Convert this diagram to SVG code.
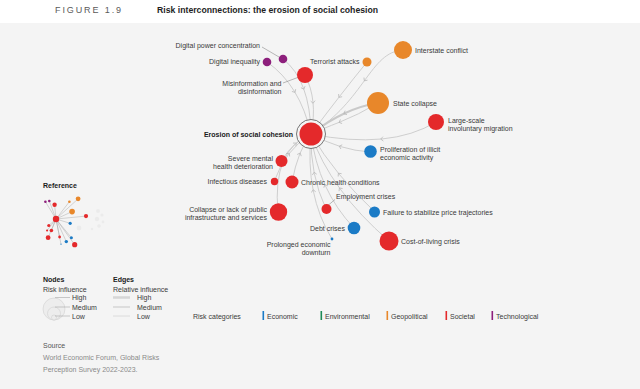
<svg xmlns="http://www.w3.org/2000/svg" width="640" height="389" viewBox="0 0 640 389">
<defs>
<style>
.t{font-family:"Liberation Sans",Arial,sans-serif;font-size:7px;fill:#3a3a3a}
.e{text-anchor:end}
.b{font-weight:bold;fill:#1a1a1a}
.edge{fill:none;stroke:#c9c9c9;stroke-width:0.9;marker-mid:url(#chev)}
.lead{stroke:#777;stroke-width:0.5;fill:none}
.soc{fill:#e4292b}.geo{fill:#e8872a}.eco{fill:#1b7bc6}.tec{fill:#8d1f7c}
.mini line{stroke:#9a9a9a;stroke-width:0.4}
</style>
<marker id="chev" viewBox="-3 -3 6 6" markerWidth="6" markerHeight="6" orient="auto" markerUnits="userSpaceOnUse">
<path d="M-1.4,-2.2 L1,0 L-1.4,2.2" fill="none" stroke="#b5b5b5" stroke-width="0.7"/>
</marker>
</defs>
<rect width="640" height="389" fill="#ffffff"/>
<rect y="23" width="640" height="366" fill="#f4f4f4"/>
<text x="55" y="12.5" style="font-family:'Liberation Sans',Arial,sans-serif;font-size:9px;letter-spacing:1.9px;fill:#5a5a5a">FIGURE 1.9</text>
<text x="157" y="12.5" style="font-family:'Liberation Sans',Arial,sans-serif;font-size:8.7px;font-weight:bold;fill:#1e1e1e">Risk interconnections: the erosion of social cohesion</text>

<g id="connectors">
<path class="edge" d="M283,59 Q296.5,69.5 303.5,88.25 T311,134"/>
<path class="edge" d="M267,62 Q283.5,73.5 294.5,91.5 T311,134"/>
<path class="edge" d="M305,75 Q311.5,87.5 313,102.25 T311,134"/>
<path class="edge" d="M367,62 Q353.5,78.5 339.5,96.5 T311,134"/>
<path class="edge" d="M403,50 C386.5,51 377,63.5 364.9,80 S338,117 311,134"/>
<path class="edge" style="stroke-width:2" d="M378,103 Q361.5,105.5 344.75,113.25 T311,134"/>
<path class="edge" d="M378,103 Q358,115 340,122 T311,134"/>
<path class="edge" d="M436,122 Q413,136 381.75,139 T311,134"/>
<path class="edge" d="M370,152 Q355,151 340.25,146.5 T311,134"/>
<path class="edge" d="M281,161 Q288,150.5 295.5,143.75 T311,134"/>
<path class="edge" d="M278,212 Q275,181 283.25,161.5 T311,134"/>
<path class="edge" d="M274,182 Q279.5,166 288.75,154 T311,134"/>
<path class="edge" d="M292,182 Q295,166 299.75,154 T311,134"/>
<path class="edge" d="M326,209 Q318,192 314.25,173.25 T311,134"/>
<path class="edge" d="M354,228 Q336,209 325.25,185.5 T311,134"/>
<path class="edge" d="M332,239 Q318.5,217 313.25,190.75 T311,134"/>
<path class="edge" d="M389,241 Q359.5,215.5 340,188.75 T311,134"/>
<path class="edge" d="M375,212 Q355,193.5 339,174 T311,134"/>
<line class="lead" x1="262" y1="47" x2="279" y2="57"/>
<line class="lead" x1="283" y1="83" x2="299" y2="77"/>
<line class="lead" x1="335" y1="199.5" x2="328.5" y2="205"/>
</g>

<g id="n-center"><circle cx="311" cy="134" r="14.5" fill="#f4f4f4" stroke="#555" stroke-width="0.8"/><circle class="soc" cx="311" cy="134" r="11.5"/><text class="t b e" x="293" y="136.5">Erosion of social cohesion</text></g>
<g id="n-digpower"><circle class="tec" cx="283" cy="59" r="4.3"/><text class="t e" x="260" y="48">Digital power concentration</text></g>
<g id="n-diginequality"><circle class="tec" cx="267" cy="62" r="4.3"/><text class="t e" x="260" y="63.5">Digital inequality</text></g>
<g id="n-misinfo"><circle class="soc" cx="305" cy="75" r="8"/><text class="t e" x="281.5" y="85.5">Misinformation and</text><text class="t e" x="281.5" y="93.5">disinformation</text></g>
<g id="n-terrorist"><circle class="geo" cx="367" cy="62" r="4.5"/><text class="t e" x="359.5" y="64">Terrorist attacks</text></g>
<g id="n-interstate"><circle class="geo" cx="403" cy="50" r="9"/><text class="t" x="415" y="52.5">Interstate conflict</text></g>
<g id="n-statecollapse"><circle class="geo" cx="378" cy="103" r="11"/><text class="t" x="393" y="105.5">State collapse</text></g>
<g id="n-migration"><circle class="soc" cx="436" cy="122" r="8"/><text class="t" x="448" y="122.5">Large-scale</text><text class="t" x="448" y="131">involuntary migration</text></g>
<g id="n-illicit"><circle class="eco" cx="370.5" cy="151.5" r="6.3"/><text class="t" x="380" y="151.5">Proliferation of illicit</text><text class="t" x="380" y="159.5">economic activity</text></g>
<g id="n-mental"><circle class="soc" cx="281.5" cy="161" r="6"/><text class="t e" x="273" y="160.5">Severe mental</text><text class="t e" x="273" y="168.5">health deterioration</text></g>
<g id="n-infectious"><circle class="soc" cx="274.5" cy="181.5" r="3.7"/><text class="t e" x="267" y="184">Infectious diseases</text></g>
<g id="n-chronic"><circle class="soc" cx="292" cy="182" r="6.5"/><text class="t" x="301" y="184.5">Chronic health conditions</text></g>
<g id="n-employment"><circle class="soc" cx="326.5" cy="209" r="5"/><text class="t" x="336" y="198.5">Employment crises</text></g>
<g id="n-price"><circle class="eco" cx="374.5" cy="212" r="5.5"/><text class="t" x="383" y="214.5">Failure to stabilize price trajectories</text></g>
<g id="n-infrastructure"><circle class="soc" cx="278.5" cy="212" r="8.7"/><text class="t e" x="267" y="211.5">Collapse or lack of public</text><text class="t e" x="267" y="219.5">infrastructure and services</text></g>
<g id="n-debt"><circle class="eco" cx="354" cy="228" r="6.3"/><text class="t e" x="345" y="230.5">Debt crises</text></g>
<g id="n-downturn"><circle class="eco" cx="332" cy="239" r="1.4"/><text class="t e" x="330.5" y="246.5">Prolonged economic</text><text class="t e" x="330.5" y="255">downturn</text></g>
<g id="n-costofliving"><circle class="soc" cx="389" cy="241" r="9.5"/><text class="t" x="401" y="243.5">Cost-of-living crisis</text></g>

<g id="reference">
<text class="t b" x="43" y="188">Reference</text>
<g fill="#ebebeb">
<circle cx="98" cy="211" r="2"/><circle cx="102" cy="215" r="1.6"/><circle cx="97" cy="219" r="2.2"/><circle cx="103" cy="222" r="1.4"/><circle cx="99" cy="226" r="1.8"/><circle cx="92" cy="229" r="1.2"/><circle cx="79" cy="228" r="2.4"/>
</g>
<g class="mini">
<line x1="56" y1="219" x2="49.3" y2="201"/><line x1="56" y1="219" x2="45.4" y2="201.7"/><line x1="56" y1="219" x2="54.6" y2="204.8"/><line x1="56" y1="219" x2="69.4" y2="201.7"/><line x1="56" y1="219" x2="78.1" y2="198.8"/><line x1="56" y1="219" x2="72.1" y2="211.6"/><line x1="56" y1="219" x2="86" y2="216.1"/><line x1="56" y1="219" x2="70.2" y2="223.3"/><line x1="56" y1="219" x2="48.8" y2="225.5"/><line x1="56" y1="219" x2="47.1" y2="230.5"/><line x1="56" y1="219" x2="51.4" y2="230.5"/><line x1="56" y1="219" x2="48.1" y2="237.7"/><line x1="56" y1="219" x2="59.6" y2="237"/><line x1="56" y1="219" x2="71.4" y2="237.7"/><line x1="56" y1="219" x2="66.3" y2="241.6"/><line x1="56" y1="219" x2="61" y2="244.2"/><line x1="56" y1="219" x2="74.7" y2="244.7"/>
</g>
<circle class="soc" cx="56" cy="219" r="3.2"/>
<circle class="tec" cx="49.3" cy="201" r="1.3"/><circle class="tec" cx="45.4" cy="201.7" r="1.3"/>
<circle class="soc" cx="54.6" cy="204.8" r="2.2"/>
<circle class="geo" cx="69.4" cy="201.7" r="1.3"/><circle class="geo" cx="78.1" cy="198.8" r="2.4"/><circle class="geo" cx="72.1" cy="211.6" r="2.8"/>
<circle class="soc" cx="86" cy="216.1" r="2.1"/>
<circle class="eco" cx="70.2" cy="223.3" r="1.6"/>
<circle class="soc" cx="48.8" cy="225.5" r="1.6"/><circle class="soc" cx="47.1" cy="230.5" r="1.1"/><circle class="soc" cx="51.4" cy="230.5" r="1.8"/><circle class="soc" cx="48.1" cy="237.7" r="2.4"/><circle class="soc" cx="59.6" cy="237" r="1.4"/>
<circle class="eco" cx="71.4" cy="237.7" r="1.5"/><circle class="eco" cx="66.3" cy="241.6" r="1.7"/><circle class="eco" cx="61" cy="244.2" r="0.6"/>
<circle class="soc" cx="74.7" cy="244.7" r="2.6"/>
</g>

<g id="legend-nodes">
<text class="t b" x="43" y="282">Nodes</text>
<text class="t" x="43" y="292">Risk influence</text>
<circle cx="54" cy="309" r="11" fill="#ededed" stroke="#d0d0d0" stroke-width="0.6"/>
<circle cx="54" cy="313.5" r="6.5" fill="#ededed" stroke="#d0d0d0" stroke-width="0.6"/>
<circle cx="54" cy="317.5" r="2.5" fill="#ededed" stroke="#d0d0d0" stroke-width="0.6"/>
<line x1="55" y1="297.5" x2="70" y2="297.5" stroke="#999" stroke-width="0.5"/>
<line x1="55" y1="307" x2="70" y2="307" stroke="#999" stroke-width="0.5"/>
<line x1="55" y1="316" x2="70" y2="316" stroke="#999" stroke-width="0.5"/>
<text class="t" x="72" y="300">High</text>
<text class="t" x="72" y="309.5">Medium</text>
<text class="t" x="72" y="318.5">Low</text>
</g>
<g id="legend-edges">
<text class="t b" x="113" y="282">Edges</text>
<text class="t" x="113" y="292">Relative influence</text>
<line x1="113" y1="297.5" x2="130" y2="297.5" stroke="#d6d6d6" stroke-width="2.5"/>
<line x1="113" y1="307" x2="130" y2="307" stroke="#d6d6d6" stroke-width="1.5"/>
<line x1="113" y1="316" x2="130" y2="316" stroke="#d6d6d6" stroke-width="0.8"/>
<text class="t" x="137" y="300">High</text>
<text class="t" x="137" y="309.5">Medium</text>
<text class="t" x="137" y="318.5">Low</text>
</g>

<g id="legend-categories">
<text class="t" x="193" y="318.5">Risk categories</text>
<rect class="eco" x="262.5" y="311" width="1.6" height="9"/><text class="t" x="267" y="318.5">Economic</text>
<rect fill="#1d8a57" x="320.5" y="311" width="1.6" height="9"/><text class="t" x="325" y="318.5">Environmental</text>
<rect class="geo" x="386.5" y="311" width="1.6" height="9"/><text class="t" x="391" y="318.5">Geopolitical</text>
<rect class="soc" x="445.5" y="311" width="1.6" height="9"/><text class="t" x="450" y="318.5">Societal</text>
<rect class="tec" x="491.5" y="311" width="1.6" height="9"/><text class="t" x="496" y="318.5">Technological</text>
</g>

<g id="source">
<text class="t" x="43" y="348" style="fill:#555">Source</text>
<text class="t" x="43" y="360" style="fill:#8a8a8a">World Economic Forum, Global Risks</text>
<text class="t" x="43" y="372" style="fill:#8a8a8a">Perception Survey 2022-2023.</text>
</g>
</svg>
